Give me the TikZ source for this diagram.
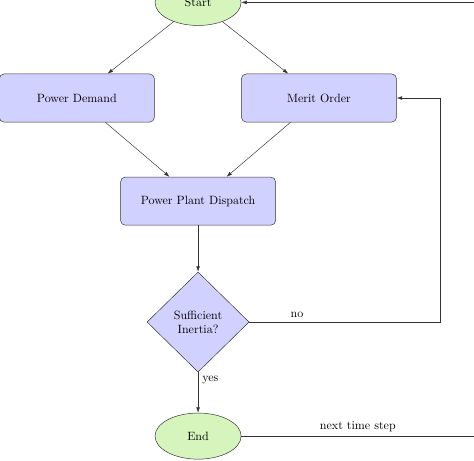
\documentclass[tikz,border=0pt]{standalone}
\usepackage{tikz}
\usetikzlibrary{arrows.meta,positioning,shapes.geometric}
\definecolor{termgreen}{RGB}{214,245,188}

\begin{document}
\begin{tikzpicture}
	\tikzset{
		block/.style={rectangle, draw=black!80, fill=blue!18, rounded corners, minimum width=4.54cm, minimum height=1.41cm},
		term/.style={ellipse, draw=black!80, fill=termgreen, minimum width=2.52cm, minimum height=1.35cm},
		decision/.style={diamond, draw=black!80, fill=blue!18, align=center, inner sep=0pt, minimum width=2.99cm, minimum height=2.93cm},
		flow/.style={draw=black!80, -{Latex[length=1.6mm, width=1.1mm]}}
	}
	\useasboundingbox (0,0) rectangle (13.88,-13.47);

	% Start and inputs
	\node[term] (start) at (5.80,-0.07) {Start};
	\node[block] (demand) at (2.25,-2.87) {Power Demand};
	\node[block] (merit) at (9.34,-2.87) {Merit Order};

	% Dispatch and inertia check
	\node[block] (dispatch) at (5.80,-5.89) {Power Plant Dispatch};
	\node[decision] (inertia) at (5.80,-9.43) {Sufficient\\Inertia?};
	\node[term] (stop) at (5.80,-12.77) {End};

	% Loop corners
	\coordinate (nocorner) at (12.88,-9.43);
	\coordinate (loopcorner) at (15,-12.77);

	\draw[flow] (start) -- (demand);
	\draw[flow] (start) -- (merit);
	\draw[flow] (demand) -- (dispatch);
	\draw[flow] (merit) -- (dispatch);
	\draw[flow] (dispatch) -- (inertia);
	\draw[flow] (inertia) -- node[right, pos=0.2] {yes} (stop);
	\draw[flow] (inertia) -- node[above, pos=0.25] {no} (nocorner) |- (merit);
	\draw[flow] (stop) -- node[above, pos=0.43] {next time step} (loopcorner) |- (start);
\end{tikzpicture}
\end{document}
